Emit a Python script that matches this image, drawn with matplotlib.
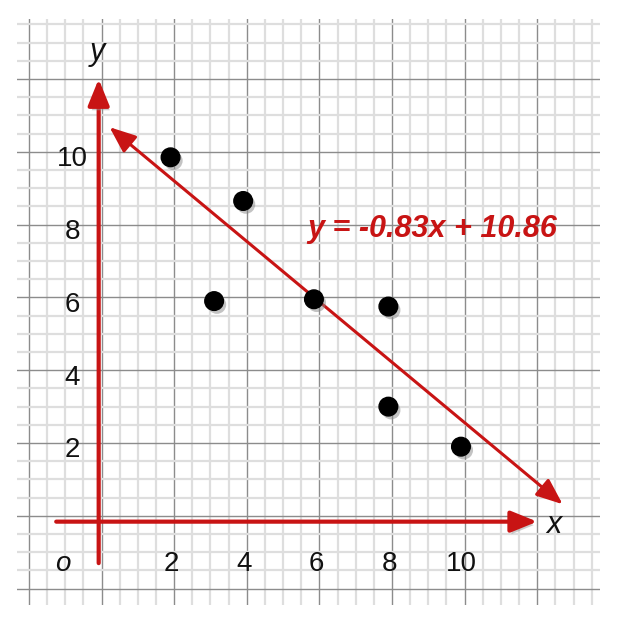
import numpy as np
import matplotlib
matplotlib.use("Agg")
import matplotlib.pyplot as plt
import matplotlib.patheffects as pe
from matplotlib.ticker import MultipleLocator
from matplotlib.patches import FancyArrowPatch

# data
pts_x = [1.9, 3.1, 3.9, 5.85, 7.9, 7.9, 9.9]
pts_y = [9.85, 5.9, 8.65, 5.95, 5.75, 3.0, 1.9]
slope = -0.83
intercept = 10.86
x_ticks = [2, 4, 6, 8, 10]
y_ticks = [2, 4, 6, 8, 10]

RED = "#c81414"
plt.rcParams["font.family"] = ["Liberation Sans", "DejaVu Sans"]

fig = plt.figure(figsize=(6.19, 6.27), dpi=100)
ax = fig.add_axes([17 / 619, 22 / 627, 583 / 619, 586 / 627])
ax.set_xlim(-2.33, 13.73)
ax.set_ylim(-2.45, 13.65)

# graph paper
ax.xaxis.set_major_locator(MultipleLocator(2))
ax.yaxis.set_major_locator(MultipleLocator(2))
ax.xaxis.set_minor_locator(MultipleLocator(0.5))
ax.yaxis.set_minor_locator(MultipleLocator(0.5))
ax.grid(which="minor", color="#dedede", linewidth=1.6)
ax.grid(which="major", color="#8c8c8c", linewidth=1.0)
ax.set_axisbelow(True)
ax.tick_params(which="both", length=0, labelbottom=False, labelleft=False)
for s in ax.spines.values():
    s.set_visible(False)


def arrow(x0, y0, x1, y1, style, lw, shade=True):
    a = FancyArrowPatch((x0, y0), (x1, y1), arrowstyle=style, color=RED,
                        linewidth=lw, shrinkA=0, shrinkB=0, zorder=4,
                        clip_on=False)
    if shade:
        a.set_path_effects([pe.SimplePatchShadow(offset=(1.5, -2.5), shadow_rgbFace="#999999", alpha=0.5), pe.Normal()])
    ax.add_patch(a)

# red coordinate axes
arrow(-1.25, -0.16, 12.0, -0.16, "-|>,head_length=16,head_width=6.5", 3)
arrow(-0.08, -1.3, -0.08, 12.0, "-|>,head_length=16,head_width=6.5", 3)

# fitted line with arrows at both ends
fx = np.array([0.22, 12.7])
fy = slope * fx + intercept
arrow(fx[0], fy[0], fx[1], fy[1], "<|-|>,head_length=16,head_width=6.5", 2.2, shade=False)

# data points
ax.scatter(pts_x, pts_y, s=180, color="black", zorder=5,
           path_effects=[pe.SimplePatchShadow(offset=(2, -2.5), shadow_rgbFace="#888888", alpha=0.5), pe.Normal()])

# labels
for t in x_ticks:
    ax.text(t - 0.08, -1.32, str(t), fontsize=20, ha="center", va="center", color="#111111")
for t in y_ticks:
    ax.text(-0.8, t - 0.2, str(t), fontsize=20, ha="center", va="center", color="#111111")
ax.text(-1.07, -1.32, "o", fontsize=20, style="italic", ha="center", va="center", color="#111111")
ax.text(-0.12, 12.75, "y", fontsize=22, style="italic", ha="center", va="center", color="#111111")
ax.text(12.45, -0.25, "x", fontsize=22, style="italic", ha="center", va="center", color="#111111")
ax.text(9.1, 7.87, "y = -0.83x + 10.86", fontsize=22, style="italic", weight="bold",
        ha="center", va="center", color=RED)

fig.savefig("out.png", dpi=100, facecolor="white")
